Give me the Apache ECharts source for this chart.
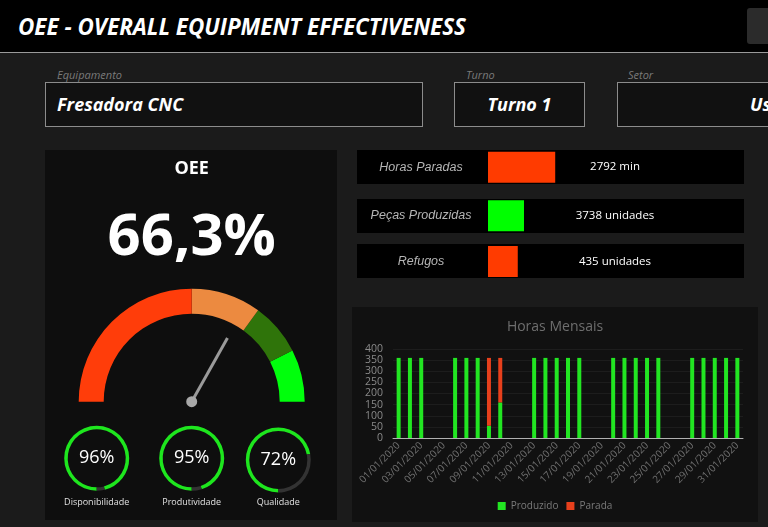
<!DOCTYPE html>
<html>
<head>
<meta charset="utf-8">
<script src="https://cdn.jsdelivr.net/npm/echarts@6/dist/echarts.min.js"></script>
<style>
    body { margin: 0; width: 768px; height: 527px; overflow: hidden; background: #1b1b1b; position: relative; font-family: "Open Sans", sans-serif; }
    .abs { position: absolute; }
    #header { left: 0; top: 0; width: 768px; height: 52px; background: #000; border-bottom: 1px solid #9a9a9a; }
    #title { left: 18px; top: 11px; color: #fff; font-size: 22.4px; font-weight: bold; font-style: italic; white-space: nowrap; }
    #btn { left: 747px; top: 8px; width: 40px; height: 36px; background: #2b2b2b; border-radius: 3px; }
    .lbl { color: #7a7a7a; font-size: 11px; font-style: italic; top: 67px; }
    .box { top: 82px; height: 45px; border: 1px solid #8c8c8c; background: #111; box-sizing: border-box; }
    .field { color: #fff; font-size: 18px; font-weight: bold; font-style: italic; top: 92px; white-space: nowrap; }
    .row { left: 357px; width: 387px; height: 34px; background: #000; }
    #oee { left: 45px; top: 150px; width: 292px; height: 370px; background: #0e0e0e; }
    #kpi { left: 357px; top: 150px; width: 387px; height: 128px; }
    #monthly { left: 352px; top: 307px; width: 406px; height: 215px; background: #111; }
</style>
</head>
<body>
<div id="header" class="abs"></div>
<div id="title" class="abs">OEE - OVERALL EQUIPMENT EFFECTIVENESS</div>
<div id="btn" class="abs"></div>

<div class="abs lbl" style="left:57px">Equipamento</div>
<div class="abs box" style="left:45px; width:378px"></div>
<div class="abs field" style="left:57px">Fresadora CNC</div>

<div class="abs lbl" style="left:466px">Turno</div>
<div class="abs box" style="left:454px; width:131px"></div>
<div class="abs field" style="left:454px; width:131px; text-align:center">Turno 1</div>

<div class="abs lbl" style="left:628px">Setor</div>
<div class="abs box" style="left:617px; width:180px"></div>
<div class="abs field" style="left:750px">Usinagem</div>

<div class="abs row" style="top:150px"></div>
<div class="abs row" style="top:199px"></div>
<div class="abs row" style="top:244px"></div>

<div id="oee" class="abs"></div>
<div id="kpi" class="abs"></div>
<div id="monthly" class="abs"></div>

<script>
// OEE gauge
var oeeValue = 66.3;
var gaugeStops = [0.5, 0.7, 0.85, 1];
var gaugeColors = ['#ff3d0a', '#ec8a40', '#2f740a', '#00ff0c'];

// small rings
var ringNames = ['Disponibilidade', 'Produtividade', 'Qualidade'];
var ringValues = [96, 95, 72];

// indicator rows
var kpiNames = ['Horas Paradas', 'Peças Produzidas', 'Refugos'];
var kpiValues = [2792, 3738, 435];
var kpiUnits = ['min', 'unidades', 'unidades'];
var kpiScaleMax = [5400, 13500, 1900];
var kpiColors = ['#ff3b00', '#00ff00', '#ff3b00'];

// monthly hours
var days = ['01/01/2020', '02/01/2020', '03/01/2020', '04/01/2020', '05/01/2020', '06/01/2020', '07/01/2020', '08/01/2020',
    '09/01/2020', '10/01/2020', '11/01/2020', '12/01/2020', '13/01/2020', '14/01/2020', '15/01/2020', '16/01/2020',
    '17/01/2020', '18/01/2020', '19/01/2020', '20/01/2020', '21/01/2020', '22/01/2020', '23/01/2020', '24/01/2020',
    '25/01/2020', '26/01/2020', '27/01/2020', '28/01/2020', '29/01/2020', '30/01/2020', '31/01/2020'];
var produzido = [360, 360, 360, 0, 0, 360, 360, 360, 55, 160, 0, 0, 360, 360, 360, 360,
    360, 0, 0, 360, 360, 360, 360, 360, 0, 0, 360, 360, 360, 360, 360];
var parada = [0, 0, 0, 0, 0, 0, 0, 0, 305, 200, 0, 0, 0, 0, 0, 0,
    0, 0, 0, 0, 0, 0, 0, 0, 0, 0, 0, 0, 0, 0, 0];

var ringCenters = [[51.7, 308.3], [146.7, 308.3], [233.3, 310]];

function drawOee() {
    var myChart = echarts.init(document.getElementById('oee'));
    var bands = [];
    for (var i = 0; i < gaugeStops.length; i++) {
        bands.push([gaugeStops[i], gaugeColors[i]]);
    }
    var series = [
        {
            type: 'gauge',
            center: [146.7, 251.7],
            radius: 113,
            startAngle: 180,
            endAngle: 0,
            min: 0,
            max: 100,
            axisLine: { lineStyle: { width: 25, color: bands } },
            splitLine: { show: false },
            axisTick: { show: false },
            axisLabel: { show: false },
            pointer: { icon: 'rect', length: 73, width: 3, itemStyle: { color: '#9a9a9a' } },
            anchor: { show: true, size: 11, showAbove: true, itemStyle: { color: '#a8a8a8' } },
            title: { show: false },
            detail: { show: false },
            data: [{ value: oeeValue }]
        }
    ];
    var texts = [
        { type: 'text', x: 146.7, y: 19, style: { text: 'OEE', fill: '#fff', font: 'bold 18px "Open Sans"', align: 'center', verticalAlign: 'middle' } },
        { type: 'text', x: 146.7, y: 88, style: { text: String(oeeValue).replace('.', ',') + '%', fill: '#fff', font: 'bold 58px "Open Sans"', align: 'center', verticalAlign: 'middle' } }
    ];
    for (var k = 0; k < ringValues.length; k++) {
        series.push({
            type: 'pie',
            center: ringCenters[k],
            radius: [29, 32.5],
            startAngle: 270,
            silent: true,
            label: { show: false },
            labelLine: { show: false },
            data: [
                { value: ringValues[k], itemStyle: { color: '#1ee61e' },
                  label: { show: true, position: 'center', formatter: ringValues[k] + '%', color: '#fff', fontSize: 18, fontFamily: 'Open Sans' } },
                { value: 100 - ringValues[k], itemStyle: { color: '#333' } }
            ]
        });
        texts.push({ type: 'text', x: ringCenters[k][0], y: 352,
            style: { text: ringNames[k], fill: '#e0e0e0', font: '9px "Open Sans"', align: 'center', verticalAlign: 'middle' } });
    }
    myChart.setOption({ animation: false, series: series, graphic: texts });
}

function drawKpi() {
    var myChart = echarts.init(document.getElementById('kpi'));
    var rowTops = [1.7, 50.3, 96];
    var grid = [], xAxis = [], yAxis = [], series = [];
    for (var i = 0; i < kpiNames.length; i++) {
        grid.push({ left: 131, width: 130, top: rowTops[i], height: 31 });
        xAxis.push({ type: 'value', gridIndex: i, min: 0, max: kpiScaleMax[i], show: false });
        yAxis.push({
            type: 'category', gridIndex: i, data: [kpiNames[i]],
            axisLine: { show: false }, axisTick: { show: false },
            axisLabel: { margin: 67, align: 'center', color: '#b5b5b5', fontSize: 12.5, fontStyle: 'italic', fontFamily: 'Liberation Sans' }
        });
        series.push({
            type: 'bar', xAxisIndex: i, yAxisIndex: i, barWidth: '100%',
            itemStyle: { color: kpiColors[i] },
            label: { show: true, position: [127, '50%'], align: 'center', verticalAlign: 'middle',
                formatter: kpiValues[i] + ' ' + kpiUnits[i], color: '#fff', fontSize: 11.5, fontFamily: 'Open Sans' },
            data: [kpiValues[i]]
        });
    }
    myChart.setOption({ animation: false, grid: grid, xAxis: xAxis, yAxis: yAxis, series: series });
}

function drawMonthly() {
    var myChart = echarts.init(document.getElementById('monthly'));
    var option = {
        animation: false,
        title: {
            text: 'Horas Mensais', left: 'center', top: 8,
            textStyle: { color: '#6e6e6e', fontSize: 14, fontWeight: 'normal', fontFamily: 'Open Sans' }
        },
        legend: {
            bottom: 6, left: 'center', icon: 'rect', itemWidth: 8, itemHeight: 8, itemGap: 8,
            textStyle: { color: '#7a7a7a', fontSize: 10, fontFamily: 'Open Sans' },
            data: ['Produzido', 'Parada']
        },
        grid: { left: 41, right: 15, top: 42, bottom: 84 },
        xAxis: {
            type: 'category',
            data: days,
            axisLine: { lineStyle: { color: '#b0b0b0' } },
            axisTick: { interval: 1, length: 4, lineStyle: { color: '#b0b0b0' } },
            axisLabel: { interval: 1, rotate: 45, color: '#707070', fontSize: 10, fontFamily: 'Open Sans', margin: 6 }
        },
        yAxis: {
            type: 'value', min: 0, max: 400, interval: 50,
            axisLabel: { color: '#8a8a8a', fontSize: 10.5, fontFamily: 'Open Sans', margin: 10 },
            splitLine: { lineStyle: { color: '#1d1d1d' } }
        },
        series: [
            { name: 'Produzido', type: 'bar', stack: 'h', barWidth: 4, itemStyle: { color: '#22e622' }, data: produzido },
            { name: 'Parada', type: 'bar', stack: 'h', barWidth: 4, itemStyle: { color: '#e8401c' }, data: parada }
        ]
    };
    myChart.setOption(option);
}

drawOee();
drawKpi();
drawMonthly();
</script>
</body>
</html>
